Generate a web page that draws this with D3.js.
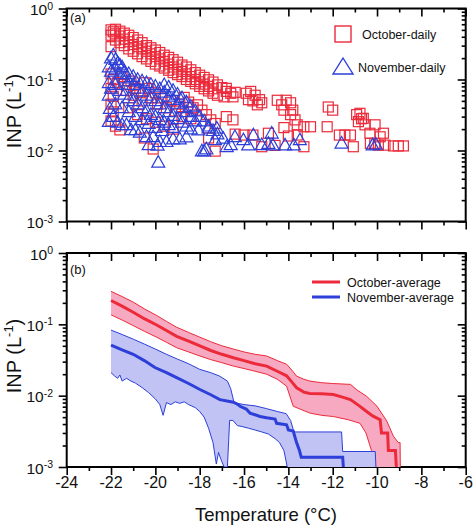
<!DOCTYPE html>
<html><head><meta charset="utf-8">
<script src="https://cdn.jsdelivr.net/npm/d3@7"></script>
<style>body{margin:0;background:#fff}svg{display:block}text{font-family:"Liberation Sans",Arial,sans-serif;fill:#111}</style>
</head><body><svg id="c" width="474" height="530"></svg>
<script>
// ---------- tick definitions ----------
const xMajorTicks = [-24,-22,-20,-18,-16,-14,-12,-10,-8,-6];
const xMinorTicks = [-23,-21,-19,-17,-15,-13,-11,-9,-7];
const yExponents = [-3,-2,-1,0];

// ---------- panel (a): daily spectra [temperature, INP] ----------
const octBandTop = [[-22.0,0.50],[-21.8,0.51],[-21.6,0.48],[-21.4,0.45],[-21.2,0.42],[-21.0,0.39],[-20.8,0.36],[-20.6,0.33],[-20.4,0.30],[-20.2,0.28],[-20.0,0.26],[-19.8,0.24],[-19.6,0.22],[-19.4,0.205],[-19.2,0.19],[-19.0,0.175],[-18.8,0.16],[-18.6,0.15],[-18.4,0.137],[-18.2,0.125],[-18.0,0.115],[-17.8,0.107],[-17.6,0.099],[-17.4,0.092],[-17.2,0.084],[-17.0,0.077],[-16.8,0.068]];
const octBandMid = [[-22.0,0.42],[-21.9,0.47],[-21.8,0.44],[-21.6,0.41],[-21.4,0.37],[-21.2,0.34],[-21.0,0.31],[-20.8,0.29],[-20.6,0.27],[-20.4,0.25],[-20.2,0.23],[-20.0,0.21],[-19.8,0.195],[-19.6,0.18],[-19.4,0.165],[-19.2,0.15],[-19.0,0.14],[-18.8,0.13],[-18.6,0.12],[-18.4,0.11],[-18.2,0.10],[-18.0,0.093],[-17.8,0.086],[-17.6,0.08],[-17.4,0.074]];
const octBandLow = [[-22.0,0.29],[-21.8,0.36],[-21.6,0.33],[-21.4,0.30],[-21.2,0.27],[-21.0,0.25],[-20.8,0.23],[-20.6,0.21],[-20.4,0.195],[-20.2,0.18],[-20.0,0.165],[-19.8,0.155],[-19.6,0.145],[-19.4,0.135],[-19.2,0.125],[-19.0,0.117],[-18.8,0.11],[-18.6,0.10],[-18.4,0.094],[-18.2,0.087],[-18.0,0.08],[-17.8,0.074],[-17.6,0.069],[-17.4,0.064],[-17.2,0.06]];
const octCloud = [[-22.0,0.12],[-21.9,0.10],[-22.0,0.075],[-21.9,0.058],[-22.0,0.045],[-21.9,0.035],[-22.0,0.026],[-21.8,0.022],[-21.6,0.0195],[-21.7,0.09],[-21.5,0.11],[-21.4,0.085],[-21.3,0.07],[-21.1,0.095],[-21.0,0.06],[-20.9,0.075],[-20.7,0.065],[-20.6,0.05],[-20.5,0.09],[-20.3,0.075],[-20.2,0.055],[-20.0,0.065],[-19.9,0.045],[-19.7,0.055],[-19.5,0.04],[-19.3,0.05],[-19.1,0.036],[-18.9,0.045],[-18.7,0.056],[-18.5,0.048],[-18.3,0.04],[-18.1,0.044],[-17.9,0.037],[-17.7,0.032],[-17.5,0.027],[-17.3,0.024],[-21.2,0.04],[-20.8,0.032],[-20.4,0.028],[-20.0,0.025],[-19.6,0.022],[-19.2,0.02],[-20.5,0.015],[-20.1,0.0105],[-17.3,0.0098],[-17.6,0.015],[-18.4,0.028],[-18.8,0.03]];
const octSparse = [[-16.8,0.075],[-16.6,0.064],[-16.5,0.057],[-16.9,0.057],[-16.4,0.066],[-15.9,0.064],[-15.7,0.068],[-15.5,0.06],[-15.8,0.052],[-15.6,0.05],[-15.3,0.052],[-15.4,0.044],[-15.2,0.047],[-14.5,0.051],[-14.3,0.044],[-14.1,0.051],[-14.2,0.037],[-13.9,0.047],[-13.8,0.037],[-13.9,0.032],[-13.7,0.027],[-13.6,0.023],[-13.3,0.0216],[-13.0,0.0216],[-16.8,0.03],[-16.5,0.027],[-16.4,0.017],[-16.0,0.0165],[-15.6,0.0165],[-14.9,0.0175],[-15.2,0.0113],[-14.2,0.021],[-14.0,0.016],[-13.6,0.0165],[-14.6,0.0118],[-13.3,0.0113]];
const octRight = [[-12.2,0.041],[-12.0,0.037],[-12.25,0.0216],[-11.7,0.0165],[-11.45,0.0165],[-11.2,0.0165],[-11.07,0.0113],[-10.92,0.032],[-10.77,0.0334],[-10.62,0.0284],[-10.84,0.0255],[-10.54,0.023],[-10.7,0.028],[-10.32,0.0175],[-10.09,0.023],[-9.86,0.0156],[-9.71,0.0175],[-10.1,0.0126],[-9.94,0.0119],[-9.64,0.0119],[-9.26,0.0116],[-9.04,0.0116],[-8.81,0.0116],[-10.3,0.0126]];

const novRidgeA = [[-22.0,0.20],[-21.9,0.22],[-21.8,0.19],[-21.7,0.17],[-21.6,0.16],[-21.5,0.15],[-21.4,0.13],[-21.2,0.12],[-21.0,0.11],[-20.8,0.10],[-20.6,0.095],[-20.4,0.09],[-20.2,0.085],[-20.0,0.08],[-19.8,0.074],[-19.6,0.066],[-19.4,0.058],[-19.2,0.052],[-19.0,0.046],[-18.8,0.04],[-18.6,0.035],[-18.4,0.03],[-18.2,0.026]];
const novRidgeB = [[-22.1,0.15],[-22.0,0.13],[-21.8,0.14],[-21.6,0.12],[-21.4,0.105],[-21.2,0.095],[-21.0,0.085],[-20.8,0.075],[-20.6,0.068],[-20.4,0.06],[-20.2,0.055],[-20.0,0.05],[-19.8,0.045],[-19.6,0.04],[-19.4,0.035],[-19.2,0.031],[-19.0,0.028],[-18.8,0.025],[-18.6,0.022],[-18.4,0.02]];
const novRidgeC = [[-19.6,0.084],[-19.4,0.078],[-19.2,0.07],[-19.0,0.062],[-18.8,0.055],[-18.6,0.048],[-18.4,0.042],[-18.2,0.036],[-18.0,0.03],[-17.8,0.026],[-17.6,0.022],[-17.4,0.019],[-17.2,0.017]];
const novRidgeD = [[-22.1,0.09],[-22.0,0.075],[-21.8,0.085],[-21.6,0.07],[-21.4,0.062],[-21.2,0.055],[-21.0,0.05],[-20.8,0.045],[-20.6,0.04],[-20.4,0.036],[-20.2,0.032],[-20.0,0.03],[-19.8,0.027],[-19.6,0.025],[-19.4,0.023],[-19.2,0.021]];
const novLowLeft = [[-22.1,0.06],[-22.05,0.039],[-22.1,0.0255],[-21.9,0.03],[-21.7,0.025],[-21.5,0.023],[-21.3,0.023],[-21.1,0.0195],[-20.9,0.0195],[-20.7,0.018],[-20.4,0.0156],[-20.1,0.0156],[-19.8,0.0133],[-19.5,0.0133],[-19.2,0.0145],[-18.9,0.0145],[-18.6,0.0155],[-21.8,0.045],[-21.5,0.04],[-21.2,0.035],[-20.9,0.03],[-20.6,0.027],[-20.3,0.024],[-20.0,0.021],[-19.7,0.019],[-19.87,0.0068],[-20.3,0.012],[-19.9,0.0118]];
const novRow = [[-18.06,0.0194],[-17.6,0.0206],[-17.23,0.0206],[-17.31,0.0141],[-16.94,0.0148],[-16.78,0.0113],[-16.41,0.0156],[-16.03,0.0141],[-15.81,0.0119],[-15.58,0.0165],[-14.75,0.0175],[-14.7,0.0119],[-14.15,0.0119],[-13.75,0.0119],[-13.48,0.0141],[-17.9,0.0098],[-17.7,0.0105],[-17.8,0.0098],[-16.6,0.012],[-15.2,0.012],[-14.9,0.0125],[-11.6,0.0126],[-10.2,0.0119],[-10.05,0.0122]];

// ---------- panel (b): averages and ranges [temperature, INP] ----------
const octAvg = [[-22,0.216],[-21.5,0.18],[-21,0.148],[-20.5,0.12],[-19.94,0.098],[-19.5,0.082],[-19.04,0.068],[-18.5,0.058],[-17.99,0.05],[-17.5,0.043],[-17,0.038],[-16.48,0.034],[-16,0.031],[-15.5,0.028],[-14.98,0.026],[-14.5,0.022],[-14.08,0.019],[-13.8,0.015],[-13.63,0.0129],[-13.3,0.0112],[-13.03,0.0107],[-12.5,0.0106],[-11.97,0.0104],[-11.6,0.0096],[-11.2,0.0088],[-10.8,0.0072],[-10.47,0.006],[-10.2,0.0052],[-9.86,0.0046],[-9.8,0.003],[-9.52,0.003],[-9.49,0.0017],[-9.17,0.0017],[-9.13,0.001]];
const octUpper = [[-22,0.29],[-21.5,0.245],[-21,0.205],[-20.5,0.165],[-19.94,0.133],[-19.5,0.11],[-19.04,0.091],[-18.5,0.077],[-17.99,0.066],[-17.5,0.057],[-17,0.05],[-16.48,0.045],[-16,0.041],[-15.5,0.038],[-14.98,0.036],[-14.5,0.031],[-14.08,0.0276],[-13.8,0.022],[-13.63,0.0188],[-13.3,0.017],[-13.03,0.016],[-12.5,0.0152],[-12,0.0148],[-11.2,0.0144],[-10.9,0.012],[-10.47,0.0098],[-10.0,0.0071],[-9.56,0.0044],[-9.26,0.0027],[-9.04,0.0022],[-8.96,0.0022],[-8.95,0.001]];
const octLower = [[-22,0.136],[-21.5,0.115],[-21,0.096],[-20.5,0.08],[-19.94,0.066],[-19.5,0.056],[-19.04,0.047],[-18.5,0.041],[-17.99,0.036],[-17.5,0.032],[-17,0.029],[-16.48,0.026],[-16,0.024],[-15.5,0.022],[-14.98,0.02],[-14.5,0.017],[-14.08,0.0136],[-13.78,0.0071],[-13.03,0.0057],[-12.5,0.0053],[-11.97,0.0051],[-11.3,0.0046],[-10.77,0.0041],[-10.5,0.003],[-10.25,0.0017],[-10.1,0.001]];
const novAvg = [[-22,0.051],[-21.5,0.044],[-21,0.038],[-20.5,0.031],[-20.02,0.0248],[-19.5,0.021],[-19.04,0.0179],[-18.5,0.0148],[-17.99,0.0122],[-17.5,0.0103],[-17.09,0.0088],[-16.48,0.0081],[-16.3,0.0076],[-16.18,0.0071],[-15.9,0.0065],[-15.73,0.0057],[-15.28,0.0051],[-14.98,0.0049],[-14.6,0.0047],[-14.53,0.0041],[-14.08,0.0039],[-14.0,0.0033],[-13.78,0.0032],[-13.63,0.0022],[-13.5,0.0017],[-13.42,0.00137],[-11.55,0.00137],[-11.52,0.001]];
const novUpper = [[-22,0.083],[-21.5,0.072],[-21,0.062],[-20.5,0.053],[-20,0.045],[-19.5,0.038],[-19,0.0325],[-18.5,0.028],[-18,0.0234],[-17.5,0.021],[-17.1,0.0188],[-16.75,0.016],[-16.6,0.0125],[-16.45,0.008],[-16,0.0075],[-15.5,0.0072],[-15,0.0066],[-14.5,0.006],[-14.1,0.0056],[-13.9,0.0045],[-13.75,0.0031],[-11.6,0.0031],[-11.55,0.00165],[-10.08,0.00165],[-10.05,0.001]];
const novLower = [[-22,0.021],[-21.85,0.019],[-21.7,0.0175],[-21.6,0.0195],[-21.5,0.016],[-21.3,0.0175],[-21.1,0.016],[-20.9,0.015],[-20.6,0.013],[-20.3,0.011],[-20.0,0.009],[-19.8,0.0075],[-19.65,0.0053],[-19.5,0.008],[-19.3,0.0075],[-19.1,0.0082],[-18.9,0.0078],[-18.7,0.0082],[-18.5,0.0075],[-18.2,0.0068],[-18.0,0.006],[-17.8,0.005],[-17.6,0.0035],[-17.4,0.0022],[-17.25,0.0011],[-17.15,0.0016],[-17.05,0.0013],[-16.9,0.001],[-16.75,0.001],[-16.65,0.0045],[-16.5,0.0045],[-16.3,0.0038],[-16.1,0.0037],[-15.8,0.0035],[-15.5,0.0033],[-15.2,0.0031],[-14.9,0.0029],[-14.6,0.0025],[-14.4,0.0022],[-14.2,0.0017],[-14.05,0.001]];

// ---------- drawing ----------
const RED = "#ec2a3a", BLUE = "#2d3fd8";
const svg = d3.select("#c");
const x = d3.scaleLinear().domain([-24,-6]).range([66.7,465.7]);
const yA = d3.scaleLog().domain([1e-3,1]).range([221.5,8.5]).clamp(true);
const yB = d3.scaleLog().domain([1e-3,1]).range([467,253]).clamp(true);
const yMinor = [];
yExponents.slice(0,3).forEach(e => { for (let m=2;m<=9;m++) yMinor.push(m*Math.pow(10,e)); });

function frame(y, id, showX) {
  const L = x.range()[0], R = x.range()[1], B = y.range()[0], T = y.range()[1];
  svg.append("clipPath").attr("id",id).append("rect").attr("x",L).attr("y",T).attr("width",R-L).attr("height",B-T);
  const ax = (gen, tx, ty) => {
    const g = svg.append("g").attr("transform",`translate(${tx},${ty})`).call(gen);
    g.select(".domain").remove();
    g.selectAll("line").attr("stroke","#000").attr("stroke-width",1.6);
  };
  ax(d3.axisBottom(x).tickValues(xMajorTicks).tickSize(8).tickFormat(""), 0, B);
  ax(d3.axisBottom(x).tickValues(xMinorTicks).tickSize(4).tickFormat(""), 0, B);
  ax(d3.axisTop(x).tickValues(xMajorTicks).tickSize(-8).tickFormat(""), 0, T);
  ax(d3.axisTop(x).tickValues(xMinorTicks).tickSize(-4).tickFormat(""), 0, T);
  ax(d3.axisLeft(y).tickValues(yExponents.map(e=>Math.pow(10,e))).tickSize(8).tickFormat(""), L, 0);
  ax(d3.axisLeft(y).tickValues(yMinor).tickSize(4).tickFormat(""), L, 0);
  ax(d3.axisRight(y).tickValues(yExponents.map(e=>Math.pow(10,e))).tickSize(-8).tickFormat(""), R, 0);
  ax(d3.axisRight(y).tickValues(yMinor).tickSize(-4).tickFormat(""), R, 0);
  svg.append("rect").attr("x",L).attr("y",T).attr("width",R-L).attr("height",B-T)
    .attr("fill","none").attr("stroke","#000").attr("stroke-width",2);
  yExponents.forEach(e => {
    const t = svg.append("text").attr("x",53).attr("y",y(Math.pow(10,e))+6.5)
      .attr("text-anchor","end").attr("font-size",15.5);
    t.append("tspan").text("10");
    t.append("tspan").attr("dy",-5.5).attr("font-size",10.5).text(String(e));
  });
  if (showX) {
    xMajorTicks.forEach(v => svg.append("text").attr("x",x(v)).attr("y",B+20.5)
      .attr("text-anchor","middle").attr("font-size",16).text(String(v)));
  }
  const cy = (T+B)/2 - 4;
  const yl = svg.append("text").attr("transform",`translate(21,${cy}) rotate(-90)`)
    .attr("text-anchor","middle").attr("font-size",20);
  yl.append("tspan").text("INP (L");
  yl.append("tspan").attr("dy",-8).attr("font-size",13).text("-1");
  yl.append("tspan").attr("dy",8).text(")");
}

// panel (a)
frame(yA, "clipA", false);
const gA = svg.append("g").attr("clip-path","url(#clipA)");
const octAll = [].concat(octCloud, octBandLow, octBandMid, octBandTop, octSparse, octRight);
gA.selectAll("rect.oct").data(octAll).enter().append("rect").attr("class","oct")
  .attr("x",d=>x(d[0])-5).attr("y",d=>yA(d[1])-5).attr("width",10).attr("height",10)
  .attr("fill","none").attr("stroke",RED).attr("stroke-width",1.2);
const tri = "M0,-6.8L6.5,4.8L-6.5,4.8Z";
const novAll = [].concat(novLowLeft, novRidgeD, novRidgeB, novRidgeA, novRidgeC, novRow);
gA.selectAll("path.nov").data(novAll).enter().append("path").attr("class","nov")
  .attr("d",tri).attr("transform",d=>`translate(${x(d[0])},${yA(d[1])})`)
  .attr("fill","none").attr("stroke",BLUE).attr("stroke-width",1.2);
svg.append("text").attr("x",70).attr("y",22).attr("font-size",13).text("(a)");
// legend (a)
svg.append("rect").attr("x",335).attr("y",26).attr("width",16).attr("height",16)
  .attr("fill","none").attr("stroke",RED).attr("stroke-width",1.4);
svg.append("text").attr("x",362).attr("y",39).attr("font-size",12.5).text("October-daily");
svg.append("path").attr("d","M0,-9L10,7L-10,7Z").attr("transform","translate(343,67)")
  .attr("fill","none").attr("stroke",BLUE).attr("stroke-width",1.4);
svg.append("text").attr("x",358).attr("y",72).attr("font-size",12.5).text("November-daily");

// panel (b)
frame(yB, "clipB", true);
const gB = svg.append("g").attr("clip-path","url(#clipB)");
const line = d3.line().x(d=>x(d[0])).y(d=>yB(d[1]));
function band(up, lo, fill, stroke, avg, w) {
  gB.append("path").attr("d", line(up.concat(lo.slice().reverse())) + "Z")
    .attr("fill",fill).attr("stroke","none");
  gB.append("path").attr("d",line(up)).attr("fill","none").attr("stroke",stroke).attr("stroke-width",1);
  gB.append("path").attr("d",line(lo)).attr("fill","none").attr("stroke",stroke).attr("stroke-width",1);
  gB.append("path").attr("d",line(avg)).attr("fill","none").attr("stroke",stroke).attr("stroke-width",w);
}
band(octUpper, octLower, "#f8a9c2", RED, octAvg, 3);
band(novUpper, novLower, "#c0c3f3", BLUE, novAvg, 3);
svg.append("text").attr("x",70).attr("y",274).attr("font-size",13).text("(b)");
// legend (b)
svg.append("line").attr("x1",312).attr("x2",340).attr("y1",282).attr("y2",282).attr("stroke",RED).attr("stroke-width",3);
svg.append("text").attr("x",347).attr("y",286.5).attr("font-size",12.5).text("October-average");
svg.append("line").attr("x1",312).attr("x2",340).attr("y1",297).attr("y2",297).attr("stroke",BLUE).attr("stroke-width",3);
svg.append("text").attr("x",347).attr("y",301.5).attr("font-size",12.5).text("November-average");

svg.append("text").attr("x",266).attr("y",521).attr("text-anchor","middle").attr("font-size",18.5).text("Temperature (°C)");
</script></body></html>
